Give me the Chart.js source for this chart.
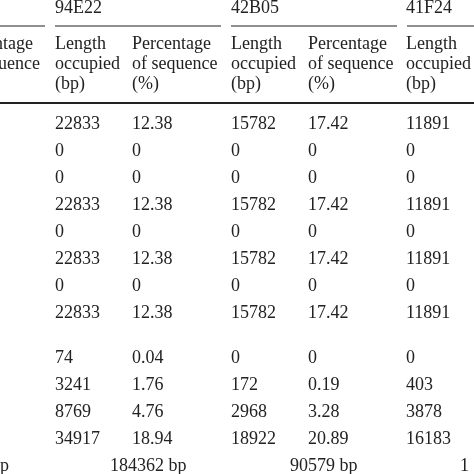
<!DOCTYPE html>
<html><head><meta charset="utf-8">
<script src="https://cdn.jsdelivr.net/npm/chart.js@4"></script>
<style>html,body{margin:0;padding:0;background:#fff}#w{width:474px;height:474px}</style>
</head><body><div id="w"><canvas id="c"></canvas></div>
<script>
const groups = ["94E22","42B05","41F24"];
const headLen = ["Length","occupied","(bp)"];
const headPct = ["Percentage","of sequence","(%)"];
const headLeft = ["ntage","uence"];
const len94 = ["22833","0","0","22833","0","22833","0","22833","","74","3241","8769","34917"];
const pct94 = ["12.38","0","0","12.38","0","12.38","0","12.38","","0.04","1.76","4.76","18.94"];
const len42 = ["15782","0","0","15782","0","15782","0","15782","","0","172","2968","18922"];
const pct42 = ["17.42","0","0","17.42","0","17.42","0","17.42","","0","0.19","3.28","20.89"];
const len41 = ["11891","0","0","11891","0","11891","0","11891","","0","403","3878","16183"];
const totals = ["p","184362 bp","90579 bp","1"];

// layout (pixels in the 474 canvas)
const colX = [55,132,231,308,406];
const groupX = [55,231,406];
const rowY = [124,151,178,205,232,259,286,313,340,358,385,412,439];
const headY = [44,64,84];
const leftX = [33,40];
const totX = [0,110,290,460];
const totY = 466;

const texts = [];
groups.forEach((g,i)=>texts.push({x:groupX[i],y:8,t:g}));
headLen.forEach((t,i)=>{texts.push({x:colX[0],y:headY[i],t});texts.push({x:colX[2],y:headY[i],t});texts.push({x:colX[4],y:headY[i],t});});
headPct.forEach((t,i)=>{texts.push({x:colX[1],y:headY[i],t});texts.push({x:colX[3],y:headY[i],t});});
headLeft.forEach((t,i)=>texts.push({x:leftX[i],y:headY[i],t,align:'right'}));
[len94,pct94,len42,pct42,len41].forEach((col,c)=>col.forEach((t,r)=>{if(t)texts.push({x:colX[c],y:rowY[r],t});}));
totals.forEach((t,i)=>texts.push({x:totX[i],y:totY,t}));

const segs = [[0,45,26,1.2],[55,221,26,1.2],[231,397,26,1.2],[407,474,26,1.2],[0,474,103,1.8]];

const textPlugin = {id:'tbl',afterDatasetsDraw(ch){
  const {ctx,scales:{x,y}}=ch; ctx.save();
  ctx.fillStyle='#222'; ctx.font='18px "Liberation Serif", "DejaVu Serif", serif'; ctx.textBaseline='middle';
  texts.forEach(o=>{ctx.textAlign=o.align||'left'; ctx.fillText(o.t,x.getPixelForValue(o.x),y.getPixelForValue(o.y));});
  ctx.restore();}};

new Chart(document.getElementById('c'),{
  type:'scatter',
  data:{datasets:segs.map(s=>({type:'line',data:[{x:s[0],y:s[2]},{x:s[1],y:s[2]}],borderColor:'#222',borderWidth:s[3],pointRadius:0}))},
  options:{responsive:true,maintainAspectRatio:false,animation:false,
    layout:{padding:0},
    plugins:{legend:{display:false},tooltip:{enabled:false}},
    scales:{x:{type:'linear',min:0,max:474,display:false},y:{type:'linear',min:0,max:474,reverse:true,display:false}}},
  plugins:[textPlugin]
});
</script></body></html>
